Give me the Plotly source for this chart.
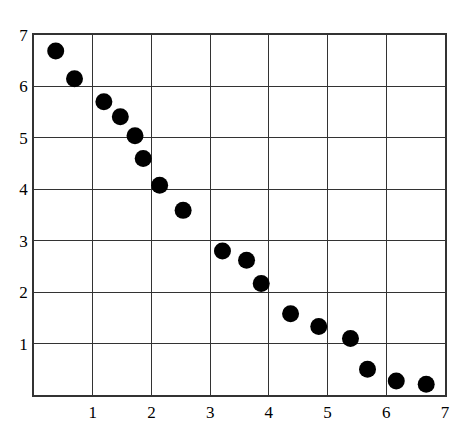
import plotly.graph_objects as go

# points
x_vals = [0.37, 0.69, 1.19, 1.47, 1.72, 1.86, 2.14, 2.54, 3.21,
          3.62, 3.87, 4.37, 4.85, 5.39, 5.68, 6.17, 6.68]
y_vals = [6.69, 6.15, 5.70, 5.41, 5.04, 4.60, 4.08, 3.59, 2.80,
          2.62, 2.17, 1.58, 1.33, 1.10, 0.50, 0.27, 0.21]

x_ticks = [1, 2, 3, 4, 5, 6, 7]
y_ticks = [1, 2, 3, 4, 5, 6, 7]


fig = go.Figure()
fig.add_trace(go.Scatter(x=x_vals, y=y_vals, mode="markers",
                         marker=dict(color="black", size=17, symbol="circle")))

axis_style = dict(showgrid=True, gridcolor="#333333", gridwidth=1.4,
                  zeroline=False, showline=True, linecolor="#333333", linewidth=1.6,
                  mirror=True, ticks="", automargin=False,
                  tickfont=dict(family="Liberation Serif", size=17, color="black"))

# page body adds ~8px, so margins are shifted to keep the plot box in place
fig.update_layout(width=474, height=437,
                  margin=dict(l=26, r=37, t=27, b=50),
                  paper_bgcolor="white", plot_bgcolor="white",
                  showlegend=False,
                  xaxis=dict(range=[0, 7], tickvals=x_ticks, ticklabelstandoff=1, **axis_style),
                  yaxis=dict(range=[0, 7], tickvals=y_ticks, ticklabelstandoff=1, **axis_style))

fig.write_html("out.html")
